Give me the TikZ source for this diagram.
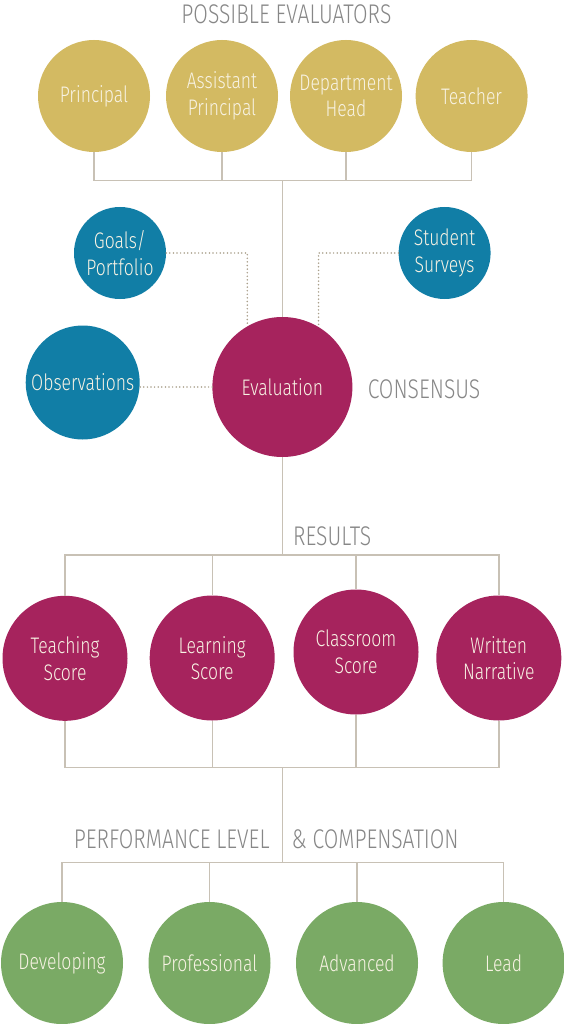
\documentclass[tikz,border=0pt]{standalone}
\usepackage{fontspec}
\setmainfont{Fira Sans Light}[FakeStretch=0.78]
\definecolor{goldc}{RGB}{211,186,98}
\definecolor{tealc}{RGB}{17,126,166}
\definecolor{magc}{RGB}{166,35,93}
\definecolor{greenc}{RGB}{122,170,101}
\definecolor{linec}{RGB}{200,193,181}
\definecolor{dotcol}{RGB}{170,160,140}
\definecolor{labc}{RGB}{135,135,135}
\definecolor{cream}{RGB}{248,243,228}
\newcommand\circfont{\fontsize{22.5}{26.7}\selectfont}
\newcommand\labfont{\fontsize{27}{30}\selectfont}
\tikzset{
  circ/.style={circle, inner sep=0pt, text=cream, font=\circfont, align=center},
  goldnode/.style={circ, fill=goldc, minimum size=112pt},
  tealsm/.style={circ, fill=tealc, minimum size=92pt},
  tealbig/.style={circ, fill=tealc, minimum size=114pt},
  evalnode/.style={circ, fill=magc, minimum size=140pt},
  scorenode/.style={circ, fill=magc, minimum size=125pt},
  greennode/.style={circ, fill=greenc, minimum size=122pt},
  conn/.style={draw=linec, line width=1.4pt},
  dotconn/.style={draw=dotcol, line width=1.7pt, line cap=round, dash pattern=on 0pt off 3.6pt},
  lab/.style={text=labc, font=\labfont, inner sep=0pt, anchor=base}
}
\begin{document}
\begin{tikzpicture}[x=1pt,y=-1pt]
\fill[white] (0,0) rectangle (564,1024);
\useasboundingbox (0,0) rectangle (564,1024);

% titles
\node[lab] (t1) at (286.4,23.3) {POSSIBLE EVALUATORS};
\node[lab, anchor=base west] (t2) at (367.6,398.3) {CONSENSUS};
\node[lab, anchor=base west] (t3) at (293,545) {RESULTS};
\node[lab, anchor=base west] (t4) at (73.7,848.3) {PERFORMANCE LEVEL};
\node[lab, anchor=base west] (t5) at (291.4,848.3) {\& COMPENSATION};

% evaluators
\node[goldnode] (p1) at (94,96) {Principal};
\node[goldnode] (p2) at (222,96) {Assistant\\Principal};
\node[goldnode] (p3) at (346,96) {Department\\Head};
\node[goldnode] (p4) at (471.6,96) {Teacher};

% inputs
\node[tealsm] (goals) at (120,253) {Goals/\\Portfolio};
\node[tealsm] (stud) at (444.6,253) {Student\\Surveys};
\node[tealbig] (obs) at (82.7,382.5) {Observations};
\node[evalnode] (eval) at (282.4,387) {Evaluation};

% results
\node[scorenode] (teach) at (65,658.3) {Teaching\\Score};
\node[scorenode] (learn) at (212.2,658) {Learning\\Score};
\node[scorenode] (class) at (356,652) {Classroom\\Score};
\node[scorenode] (writ) at (498.8,658) {Written\\Narrative};

% levels
\node[greennode] (dev) at (62,963) {Developing};
\node[greennode] (prof) at (209.5,963) {Professional};
\node[greennode] (adv) at (357,963) {Advanced};
\node[greennode] (lead) at (503.6,963) {Lead};

% bars
\coordinate (ebar) at (282.4,180.3);
\coordinate (rbar) at (282.4,555);
\coordinate (sbar) at (282.4,767.3);
\coordinate (pbar) at (282.4,862.7);

% evaluator connectors
\draw[conn] (p1.south) |- (p4.south |- ebar) -- (p4.south);
\draw[conn] (p2.south) -- (p2.south |- ebar);
\draw[conn] (p3.south) -- (p3.south |- ebar);
\draw[conn] (ebar) -- (eval.north);

% dotted inputs
\draw[dotconn] (goals.east) -| (eval.120.6);
\draw[dotconn] (stud.west) -| (eval.59.7);
\draw[dotconn] (eval.west) -- (eval.west -| obs.east);

% results connectors
\draw[conn] (eval.south) -- (rbar);
\draw[conn] (teach.north) |- (writ.north |- rbar) -- (writ.north);
\draw[conn] (learn.north) -- (learn.north |- rbar);
\draw[conn] (class.north) -- (class.north |- rbar);
\draw[conn] (teach.south) |- (writ.south |- sbar) -- (writ.south);
\draw[conn] (learn.south) -- (learn.south |- sbar);
\draw[conn] (class.south) -- (class.south |- sbar);
\draw[conn] (sbar) -- (pbar);

% level connectors
\draw[conn] (dev.north) |- (lead.north |- pbar) -- (lead.north);
\draw[conn] (prof.north) -- (prof.north |- pbar);
\draw[conn] (adv.north) -- (adv.north |- pbar);
\end{tikzpicture}
\end{document}
